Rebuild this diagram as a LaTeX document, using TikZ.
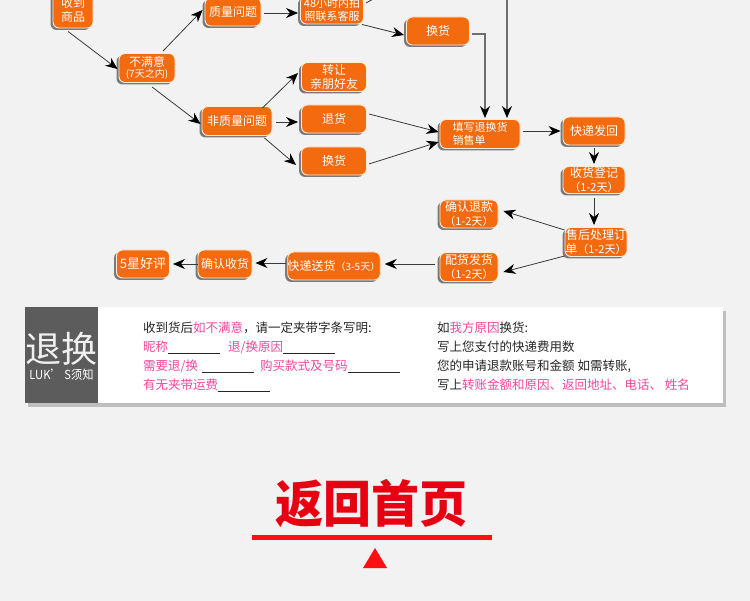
\documentclass[tikz,border=0pt]{standalone}
\usepackage{fontspec}
\setmainfont{Noto Sans CJK SC}
\usetikzlibrary{arrows.meta,shadows,calc}
\definecolor{bg}{HTML}{F2F2F2}
\definecolor{og}{HTML}{F46A0E}
\definecolor{pk}{HTML}{F2479D}
\definecolor{rd}{HTML}{E60012}
\definecolor{brd}{HTML}{FF1010}
\definecolor{ln}{HTML}{3A3A3A}
\definecolor{vl}{HTML}{6E6E6E}
\definecolor{dk}{HTML}{5C5C5C}
\definecolor{cream}{HTML}{FCECD6}
\newcommand{\blankln}[1]{\rule[-1.5pt]{#1}{0.7pt}}
\begin{document}
\begin{tikzpicture}[x=1pt,y=-1pt,
  box/.style={rectangle, rounded corners=6pt, fill=og, draw=cream, line width=0.9pt,
    text=white, align=center, inner sep=0pt, font=\fontsize{12}{14}\selectfont,
    drop shadow={shadow xshift=-2.5pt, shadow yshift=-2pt, fill=black!60, opacity=0.85}},
  arr/.style={draw=ln, line width=0.8pt, -{Stealth[length=12pt,width=10pt,black]}},
  varr/.style={draw=vl, line width=1.2pt, -{Stealth[length=12pt,width=10pt,black]}},
  ptext/.style={anchor=base west, inner sep=0pt, font=\fontsize{12.5}{15}\selectfont, text=black!85},
]
\useasboundingbox (0,0) rectangle (750,601);
\fill[bg] (0,0) rectangle (750,601);
\clip (0,0) rectangle (750,601);

% ---------- flow nodes ----------
\node[box, minimum width=40pt, minimum height=36pt] (shou) at (73,10) {收到\\商品};
\node[box, minimum width=56pt, minimum height=29pt] (bm) at (147,68) {不满意\\[-3pt]{\fontsize{10}{11}\selectfont(7天之内)}};
\node[box, minimum width=56pt, minimum height=28pt] (zl) at (233,12) {质量问题};
\node[box, minimum width=63pt, minimum height=28pt, font=\fontsize{11}{13}\selectfont] (h48) at (332,10) {48小时内拍\\照联系客服};
\node[box, minimum width=63pt, minimum height=28pt] (hh1) at (438,31) {换货};
\node[box, minimum width=70pt, minimum height=29pt] (fzl) at (237,121) {非质量问题};
\node[box, minimum width=65pt, minimum height=29pt] (zr) at (334,77) {转让\\亲朋好友};
\node[box, minimum width=65pt, minimum height=28pt] (th) at (334,119) {退货};
\node[box, minimum width=65pt, minimum height=28pt] (hh2) at (334,161) {换货};
\node[box, minimum width=80pt, minimum height=29pt, align=left, font=\fontsize{11}{13}\selectfont] (tx) at (480,134) {填写退换货\\销售单};
\node[box, minimum width=62pt, minimum height=28pt] (kd) at (594,131) {快递发回};
\node[box, minimum width=62pt, minimum height=27pt] (sh) at (594,180) {收货登记\\{\fontsize{11}{12}\selectfont（1-2天）}};
\node[box, minimum width=62pt, minimum height=29pt] (shcl) at (596,242) {售后处理订\\单{\fontsize{11}{12}\selectfont（1-2天）}};
\node[box, minimum width=58pt, minimum height=28pt] (qrtk) at (469,214) {确认退款\\{\fontsize{11}{12}\selectfont（1-2天）}};
\node[box, minimum width=58pt, minimum height=29pt] (ph) at (469,267) {配货发货\\{\fontsize{11}{12}\selectfont（1-2天）}};
\node[box, minimum width=88pt, minimum height=28pt] (kdsh) at (334,266) {快递送货{\fontsize{10}{12}\selectfont（3-5天）}};
\node[box, minimum width=54pt, minimum height=28pt] (qrsh) at (225,264) {确认收货};
\node[box, minimum width=53pt, minimum height=28pt, font=\fontsize{13}{14}\selectfont] (wx) at (143,264) {5星好评};

% ---------- connectors ----------
\coordinate (offtop) at (377,-3);
\coordinate (topin) at (507,-2);
\draw[arr] ($(shou.south)+(-5,3)$) -- ($(bm.west)+(-1,1)$);
\draw[arr] ($(bm.north)+(16,-2)$) -- ($(zl.west)+(-2,-2)$);
\draw[arr] ($(bm.south)+(5,4)$) -- ($(fzl.west)+(-1,3)$);
\draw[arr] ($(zl.east)+(3,1)$) -- ($(h48.west)+(-2,3)$);
\draw[arr] ($(h48.south east)+(-2,0)$) -- ($(hh1.west)+(-2,4)$);
\draw[draw=ln, line width=0.8pt] ($(h48.east)+(2,-7)$) -- (offtop);
\draw[varr] ($(hh1.east)+(2,3)$) -| ($(tx.north)+(5,-1)$);
\draw[varr] (topin) -- ($(topin |- tx.north)+(0,-1)$);
\draw[arr] ($(fzl.north east)+(-10,2)$) -- ($(zr.west)+(-3,-4)$);
\draw[arr] ($(fzl.east)+(4,1)$) -- ($(th.west)+(-3,3)$);
\draw[arr] ($(fzl.south east)+(-8,2)$) -- ($(hh2.west)+(-5,4)$);
\draw[arr] ($(th.east)+(2,-5)$) -- ($(tx.west)+(-1,-2)$);
\draw[arr] ($(hh2.east)+(2,3)$) -- ($(tx.west)+(-1,8)$);
\draw[arr] ($(tx.east)+(3,-3)$) -- ($(kd.west)+(-2,0)$);
\draw[arr] ($(kd.south)+(0,3)$) -- ($(sh.north)+(0,-2)$);
\draw[arr] ($(sh.south)+(0,4)$) -- ($(shcl.north)+(-2,-2)$);
\draw[arr] ($(shcl.west)+(0,-12)$) -- ($(qrtk.east)+(5,-3)$);
\draw[arr] ($(shcl.west)+(0,14)$) -- ($(ph.east)+(5,5)$);
\draw[arr] ($(ph.west)+(-5,-3)$) -- ($(kdsh.east)+(4,-2)$);
\draw[arr] ($(kdsh.west)+(-1,-3)$) -- ($(qrsh.east)+(3,-1)$);
\draw[arr] (qrsh.west) -- ($(wx.east)+(3,0)$);

% ---------- info panel ----------
\node[rectangle, fill=white, minimum width=698pt, minimum height=96pt, inner sep=0pt,
  drop shadow={shadow xshift=3pt, shadow yshift=-4pt, fill=black!45, opacity=0.5}] (panel) at (374,355) {};
\node[rectangle, fill=dk, minimum width=73pt, minimum height=96pt, inner sep=0pt, anchor=west] (tag) at (panel.west) {};
\node[text=white!94!black, inner sep=0pt, font=\fontsize{36}{36}\selectfont] (tagbig) at (61.5,349) {退换};
\node[text=white, inner sep=0pt, xscale=0.9, font=\fontsize{12.5}{13}\selectfont] (tagsmall) at (61.5,375) {LUK’ S须知};

\node[ptext] (l1) at (143,333) {收到货后\textcolor{pk}{如不满意}，请一定夹带字条写明:};
\node[ptext] (l2) at (143,352) {\textcolor{pk}{昵称}\blankln{52pt}\hspace{8pt}\textcolor{pk}{退/换原因}\blankln{52pt}};
\node[ptext] (l3) at (143,371) {\textcolor{pk}{需要退/换}\hspace{4pt}\blankln{52pt}\hspace{6pt}\textcolor{pk}{购买款式及号码}\blankln{52pt}};
\node[ptext] (l4) at (143,390) {\textcolor{pk}{有无夹带运费}\blankln{52pt}};

\node[ptext] (r1) at (437,333) {如\textcolor{pk}{我方原因}换货:};
\node[ptext] (r2) at (437,352) {写上您支付的快递费用数};
\node[ptext] (r3) at (437,371) {您的申请退款账号和金额 如需转账,};
\node[ptext] (r4) at (437,390) {写上\textcolor{pk}{转账金额和原因、返回地址、电话、 姓名}};

% ---------- bottom ----------
\node[text=rd, inner sep=0pt, anchor=base, xscale=0.96, font=\bfseries\fontsize{50}{50}\selectfont] (home) at (371,522) {返回首页};
\coordinate (ulL) at (252,537);
\coordinate (ulR) at (492,537);
\draw[brd, line width=5pt] (ulL) -- (ulR);
\fill[brd] (363,568) -- (387,568) -- (375,548) -- cycle;
\end{tikzpicture}
\end{document}
